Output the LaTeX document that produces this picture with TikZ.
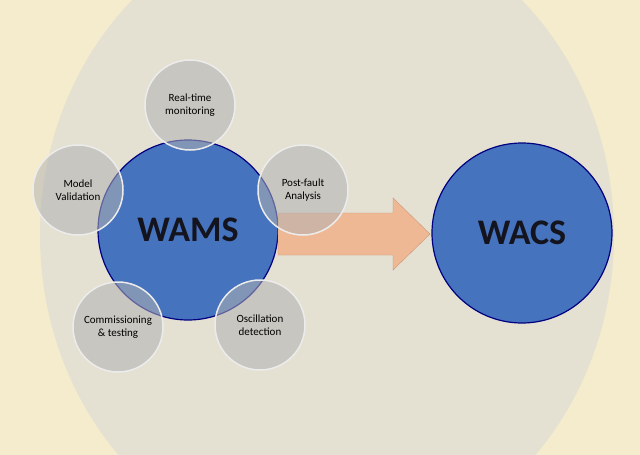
\documentclass[tikz,border=0pt]{standalone}
\usepackage{fontspec}
\setmainfont{Carlito}
\definecolor{bgc}{RGB}{245,236,205}
\definecolor{ellc}{RGB}{228,224,210}
\definecolor{bluec}{RGB}{70,115,190}
\definecolor{txtc}{RGB}{20,20,30}
\definecolor{arrc}{RGB}{238,184,148}
\definecolor{arrd}{RGB}{205,150,120}
\begin{document}
\begin{tikzpicture}[x=1pt,y=-1pt,
  big/.style={circle,draw=blue!50!black,line width=1.2pt,fill=bluec,minimum size=180pt,font=\bfseries\fontsize{36}{40}\selectfont,text=txtc},
  small/.style={circle,draw=white!85!gray,line width=1.5pt,fill=gray!60,fill opacity=0.55,text opacity=1,minimum size=90pt,align=center,font=\fontsize{11}{13}\selectfont}]
\fill[bgc] (0,0) rectangle (640,455);
\begin{scope}
\clip (0,0) rectangle (640,455);
\fill[ellc] (327,235) ellipse [x radius=287, y radius=320];
\end{scope}
\useasboundingbox (0,0) rectangle (640,455);
\node[big] (wams) at (188,230) {WAMS};
\node[big] (wacs) at (522,233) {WACS};
\fill[arrc,draw=arrd]
  (278,213) -- (393,213) -- (393,198) -- (430,234) -- (393,270) -- (393,255) -- (278,255) -- cycle;
\node[small] (rt) at (190,105) {Real-time\\monitoring};
\node[small] (pf) at (303,190) {Post-fault\\Analysis};
\node[small] (osc) at (260,325) {Oscillation\\detection};
\node[small] (com) at (118,327) {Commissioning\\\& testing};
\node[small] (mv) at (78,190) {Model\\Validation};
\end{tikzpicture}
\end{document}
